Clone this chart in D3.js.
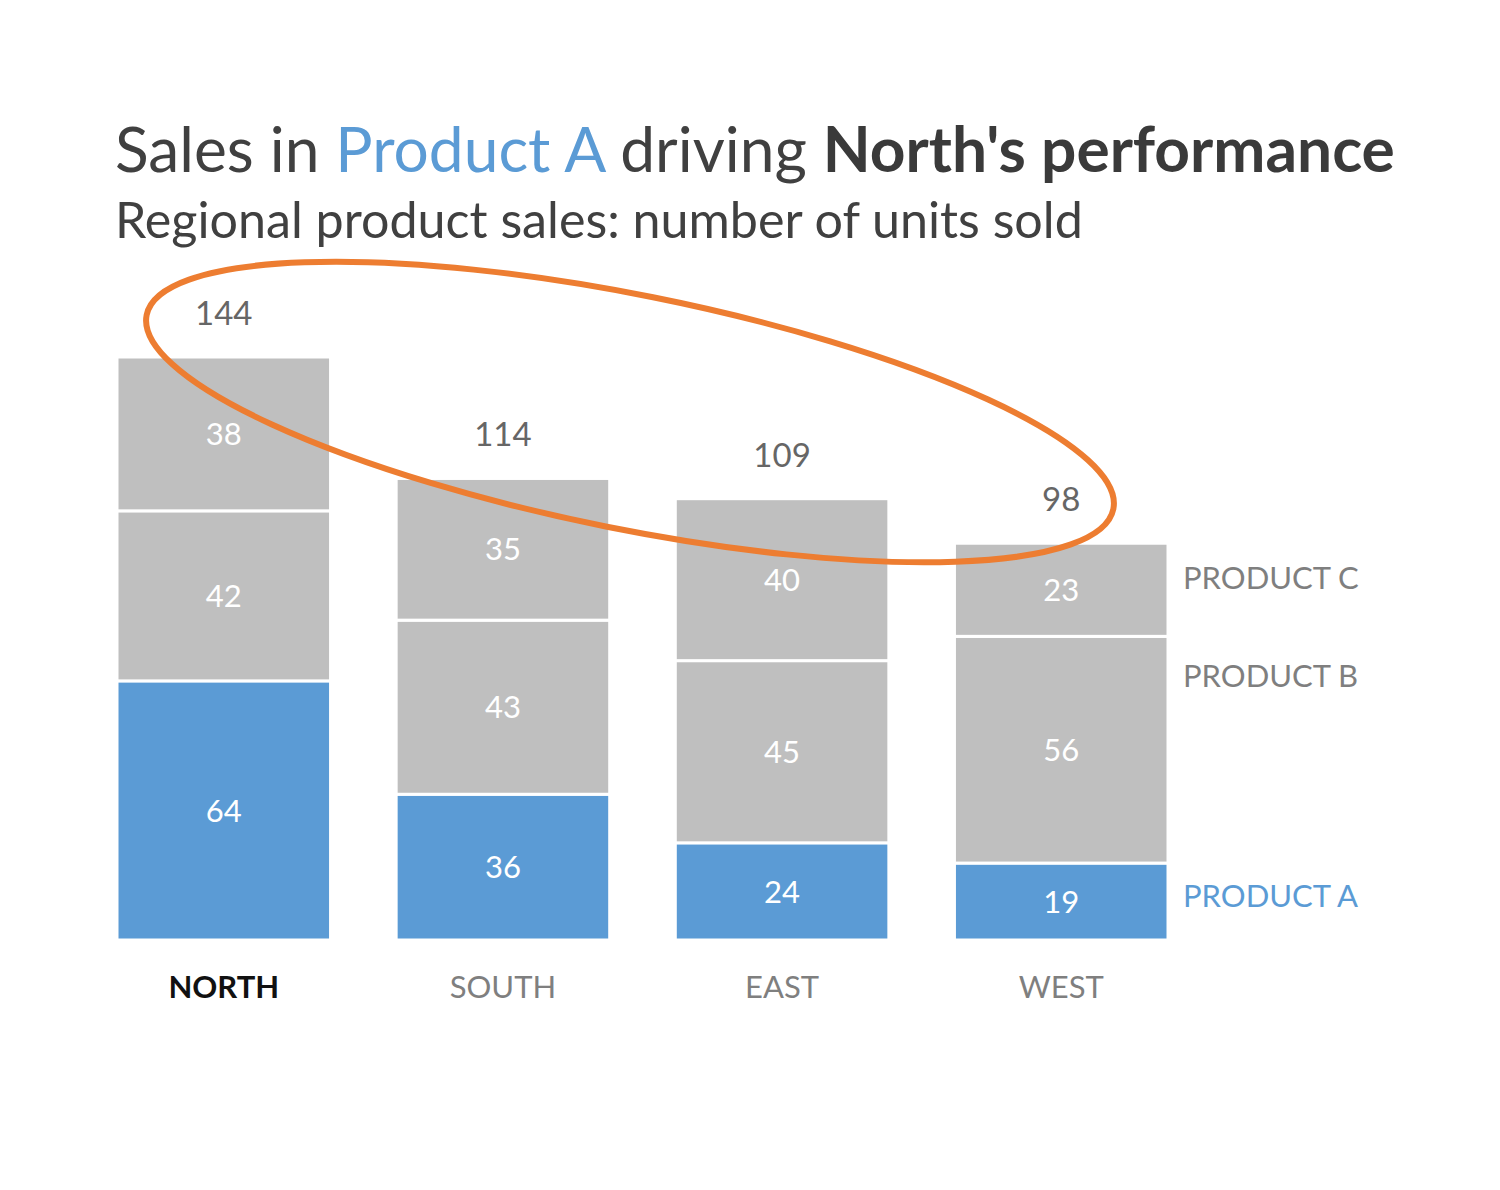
<!DOCTYPE html>
<html>
<head>
<meta charset="utf-8">
<script src="https://cdn.jsdelivr.net/npm/d3@7"></script>
<style>
  html, body { margin: 0; padding: 0; background: #fff; }
  svg { display: block; font-family: Lato, "Open Sans", sans-serif; }
</style>
</head>
<body>
<svg id="chart" width="1500" height="1190"></svg>
<script>
'use strict';

// data
var regions = ['NORTH', 'SOUTH', 'EAST', 'WEST'];
var products = ['PRODUCT A', 'PRODUCT B', 'PRODUCT C'];
var productA = [64, 36, 24, 19];
var productB = [42, 43, 45, 56];
var productC = [38, 35, 40, 23];

var BLUE = '#5B9BD5',
  GREY = '#BFBFBF',
  ORANGE = '#ED7D31';

var svg = d3.select('#chart');

var x = d3.scaleBand()
  .domain(regions)
  .range([117, 1168])
  .paddingInner(0.235)
  .paddingOuter(0);

var y = d3.scaleLinear()
  .domain([0, 144])
  .range([940, 357]);

var rows = regions.map(function(r, i) {
  return { region: r, 'PRODUCT A': productA[i], 'PRODUCT B': productB[i], 'PRODUCT C': productC[i] };
});
var series = d3.stack().keys(products)(rows);

// title
var title = svg.append('text')
  .attr('x', 115)
  .attr('y', 172)
  .attr('fill', '#404040')
  .style('font-size', '58px');
title.append('tspan').text('Sales in ');
title.append('tspan').attr('fill', BLUE).text('Product A');
title.append('tspan').text(' driving ');
title.append('tspan').attr('font-weight', 'bold').attr('fill', '#3a3a3a').text("North's performance");
// fit to the reference width
var tw = title.node().getComputedTextLength();
title.style('font-size', (58 * 1280 / tw) + 'px');

var sub = svg.append('text')
  .attr('x', 115)
  .attr('y', 238)
  .attr('fill', '#404040')
  .style('font-size', '46px')
  .text('Regional product sales: number of units sold');
var sw = sub.node().getComputedTextLength();
sub.style('font-size', (46 * 968 / sw) + 'px');

// bars
var layer = svg.append('g').selectAll('g')
  .data(series)
  .enter().append('g')
  .attr('fill', function(d) { return d.key === 'PRODUCT A' ? BLUE : GREY; });

layer.selectAll('rect')
  .data(function(d) { return d; })
  .enter().append('rect')
  .attr('x', function(d) { return x(d.data.region); })
  .attr('y', function(d) { return y(d[1]); })
  .attr('width', x.bandwidth())
  .attr('height', function(d) { return y(d[0]) - y(d[1]); })
  .attr('stroke', '#fff')
  .attr('stroke-width', 3);

// segment values
layer.selectAll('text')
  .data(function(d) { return d; })
  .enter().append('text')
  .attr('x', function(d) { return x(d.data.region) + x.bandwidth() / 2; })
  .attr('y', function(d) { return (y(d[0]) + y(d[1])) / 2; })
  .attr('dy', '0.36em')
  .attr('text-anchor', 'middle')
  .attr('fill', '#fff')
  .style('font-size', '31px')
  .text(function(d) { return d[1] - d[0]; });

// totals
svg.append('g').selectAll('text')
  .data(rows)
  .enter().append('text')
  .attr('x', function(d) { return x(d.region) + x.bandwidth() / 2; })
  .attr('y', function(d) { return y(d['PRODUCT A'] + d['PRODUCT B'] + d['PRODUCT C']) - 32; })
  .attr('text-anchor', 'middle')
  .attr('fill', '#666')
  .style('font-size', '33px')
  .text(function(d) { return d['PRODUCT A'] + d['PRODUCT B'] + d['PRODUCT C']; });

// region labels
svg.append('g').selectAll('text')
  .data(regions)
  .enter().append('text')
  .attr('x', function(d) { return x(d) + x.bandwidth() / 2; })
  .attr('y', 998)
  .attr('text-anchor', 'middle')
  .attr('fill', function(d, i) { return i === 0 ? '#111' : '#7f7f7f'; })
  .attr('font-weight', function(d, i) { return i === 0 ? 'bold' : 'normal'; })
  .style('font-size', '31px')
  .text(function(d) { return d; });

// series labels to the right of the last bar
var legendAt = { 'PRODUCT A': 10.9, 'PRODUCT B': 65.2, 'PRODUCT C': 89.5 };
svg.append('g').selectAll('text')
  .data(products)
  .enter().append('text')
  .attr('x', 1183)
  .attr('y', function(d) { return y(legendAt[d]); })
  .attr('dy', '0.36em')
  .attr('fill', function(d) { return d === 'PRODUCT A' ? BLUE : '#7f7f7f'; })
  .style('font-size', '31px')
  .text(function(d) { return d; });

// highlight ellipse around the totals
svg.append('ellipse')
  .attr('cx', 0)
  .attr('cy', 0)
  .attr('rx', 493)
  .attr('ry', 117)
  .attr('transform', 'translate(630,412) rotate(11.35)')
  .attr('fill', 'none')
  .attr('stroke', ORANGE)
  .attr('stroke-width', 6);
</script>
</body>
</html>
